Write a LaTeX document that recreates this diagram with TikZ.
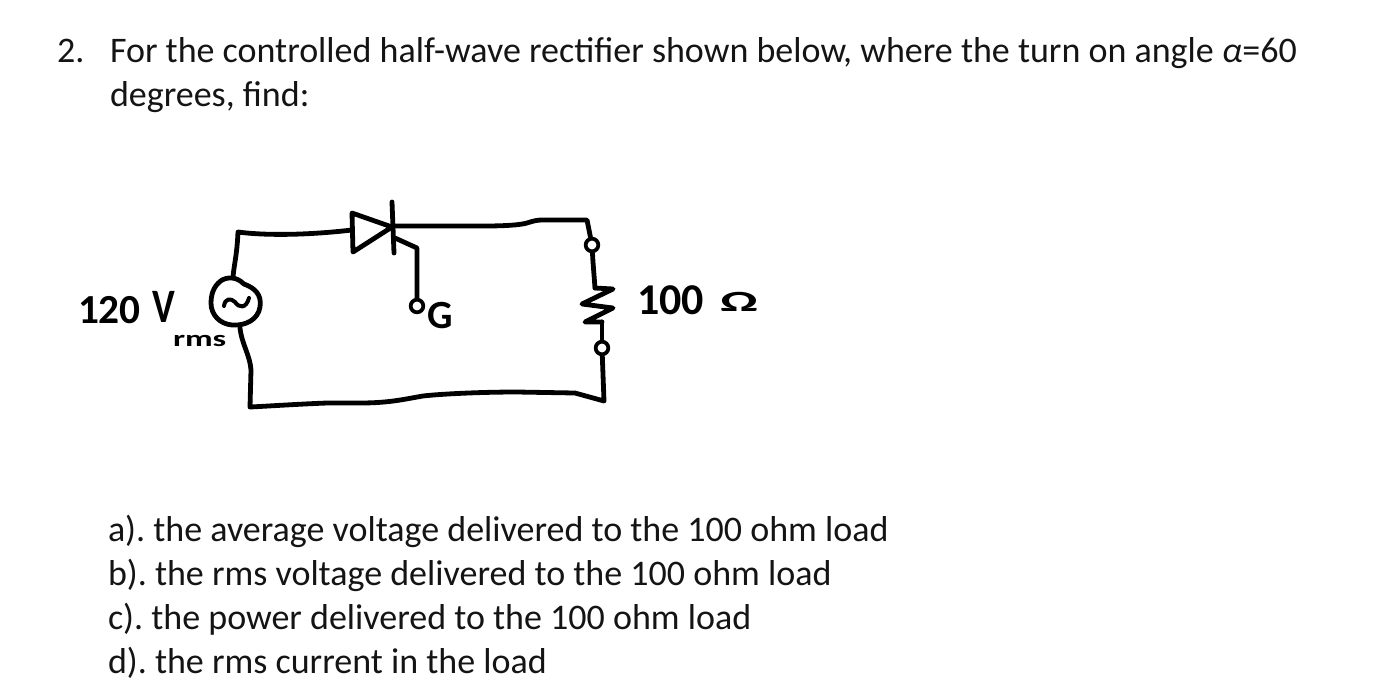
\documentclass[tikz,border=0pt]{standalone}
\usepackage{fontspec}
\setmainfont{Carlito}
\usetikzlibrary{calc}
\tikzset{
  body/.style={anchor=base west,inner sep=0pt,outer sep=0pt,font=\fontsize{27}{32}\selectfont\frenchspacing,text=black!92},
  ink/.style={draw=black,line width=3.6pt,line cap=round,line join=round},
  thin ink/.style={ink,line width=3pt},
  term/.style={circle,draw=black,line width=2.8pt,fill=white,minimum size=9.5pt,inner sep=0pt},
  hand/.style={anchor=base west,inner sep=0pt,outer sep=0pt,text=black},
}
\begin{document}
\begin{tikzpicture}[x=0.75pt,y=-0.75pt]
\useasboundingbox (0,0) rectangle (1374,694);
% printed text
\node[body] (n2) at (57,62) {2.};
\node[body] (l1) at (110,62) {For the controlled half-wave rectifier shown below, where the turn on angle \textit{α}=60};
\node[body] (l2) at (110,106) {degrees, find:};
\node[body] (qa) at (108,541) {a). the average voltage delivered to the 100 ohm load};
\node[body] (qb) at (108,585) {b). the rms voltage delivered to the 100 ohm load};
\node[body] (qc) at (108,629) {c). the power delivered to the 100 ohm load};
\node[body] (qd) at (108,673) {d). the rms current in the load};
% nodes of the circuit
\node[circle,minimum size=37pt,inner sep=0pt] (src) at (236,302) {};
\coordinate (dA) at (352,230);
\coordinate (dK) at (393,226);
\coordinate (gT) at (395,238);
\node[term] (tG) at (417,306) {};
\node[term] (tR1) at (592,245) {};
\node[term] (tR2) at (602,348) {};
\coordinate (rT) at (595,288);
\coordinate (rB) at (602,322);
% source
\draw[ink] (222,280) .. controls (232,275) and (240,280) .. (244,284)
  .. controls (255,288) and (262,295) .. (260,307)
  .. controls (258,320) and (245,326) .. (232,325)
  .. controls (220,324) and (211,315) .. (211,303)
  .. controls (211,291) and (216,284) .. (222,280);
\draw[thin ink] (224,306) .. controls (225,298) and (231,298) .. (235,302)
  .. controls (239,308) and (246,309) .. (249,298);
% wires
\draw[ink] (233,277) .. controls (234,265) and (237,255) .. (238,232)
  .. controls (260,235) and (300,236) .. (dA);
\draw[ink] (dK) -- (483,226) .. controls (505,226) and (520,225) .. (527,223)
  .. controls (533,221) and (537,220) .. (542,220) -- (587,220) -- (tR1);
\draw[ink] (tR1) -- (593,262) -- (rT);
\draw[ink] (rT) -- (613,289) -- (582,304) -- (613,308) -- (585,322) -- (rB);
\draw[ink] (rB) -- (tR2);
\draw[ink] (tR2) -- (604,401) -- (575,393) -- (517,392)
  .. controls (480,392) and (440,394) .. (423,396)
  .. controls (405,399) and (390,403) .. (360,403)
  -- (327,403) .. controls (300,404) and (270,406) .. (250,407)
  -- (251,370) .. controls (250,355) and (242,345) .. (240,328);
% thyristor
\draw[ink] (352,213) -- (392,227) -- (353,252) -- cycle;
\draw[ink] (392,202) -- (394,253);
\draw[ink] (gT) -- (417,248) -- (tG);
% handwritten labels
\node[hand,font=\fontsize{31}{31}\selectfont\bfseries] (v120) at (78,323) {120};
\node[hand,xscale=0.8,font=\fontsize{36}{36}\selectfont\bfseries] (vV) at (152,322) {V};
\node[hand,xscale=1.5,font=\fontsize{17}{17}\selectfont\bfseries] (vrms) at (173,346) {rms};
\node[hand,font=\fontsize{30}{30}\selectfont\bfseries] (gl) at (427,328) {G};
\node[hand,font=\fontsize{33}{33}\selectfont\bfseries] (r100) at (637,314) {100};
\node[hand,xscale=1.9,font=\fontsize{22}{22}\selectfont\bfseries] (rohm) at (720,311) {Ω};
\end{tikzpicture}
\end{document}
